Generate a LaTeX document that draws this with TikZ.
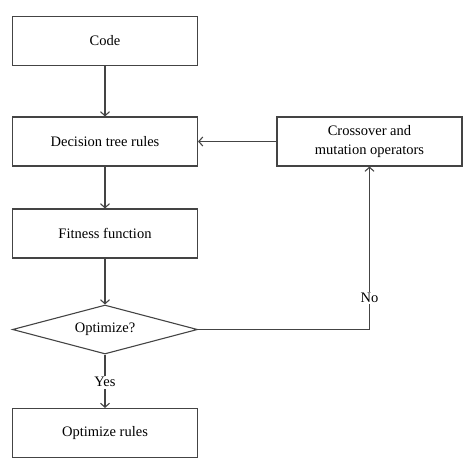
\documentclass[tikz,border=0pt]{standalone}
\usepackage{fontspec}
\setmainfont{Liberation Serif}
\usetikzlibrary{shapes.geometric,arrows.meta}
\definecolor{linegray}{HTML}{444444}
\begin{document}
\begin{tikzpicture}[x=1pt,y=-1pt,
  every node/.style={font=\fontsize{14.5}{19}\selectfont, text=black},
  box/.style={draw=linegray, line width=1.1pt, minimum width=185pt, minimum height=49pt, inner sep=0pt, align=center},
  decision/.style={draw=linegray, line width=1.1pt, diamond, aspect=3.78, minimum width=185pt, minimum height=49pt, inner sep=0pt},
  flow/.style={draw=linegray, line width=1.1pt, -{Straight Barb[length=4pt,width=9pt]}},
  lbl/.style={fill=white, inner sep=1.5pt}]
\useasboundingbox (0,0) rectangle (474,474);
\node[box] (code) at (105,41) {Code};
\node[box] (dtr) at (105,141.5) {Decision tree rules};
\node[box] (fit) at (105,233.5) {Fitness function};
\node[decision] (opt) at (105,329.5) {Optimize?};
\node[box] (rules) at (105,433) {Optimize rules};
\node[box] (cross) at (369.5,141.5) {Crossover and\\mutation operators};
\draw[flow] (code) -- (dtr);
\draw[flow] (dtr) -- (fit);
\draw[flow] (fit) -- (opt);
\draw[flow] (opt) -- node[lbl, pos=0.52] {Yes} (rules);
\draw[flow] (cross) -- (dtr);
\draw[flow] (opt.east) -| node[lbl, pos=0.597] {No} (cross.south);
\end{tikzpicture}
\end{document}
